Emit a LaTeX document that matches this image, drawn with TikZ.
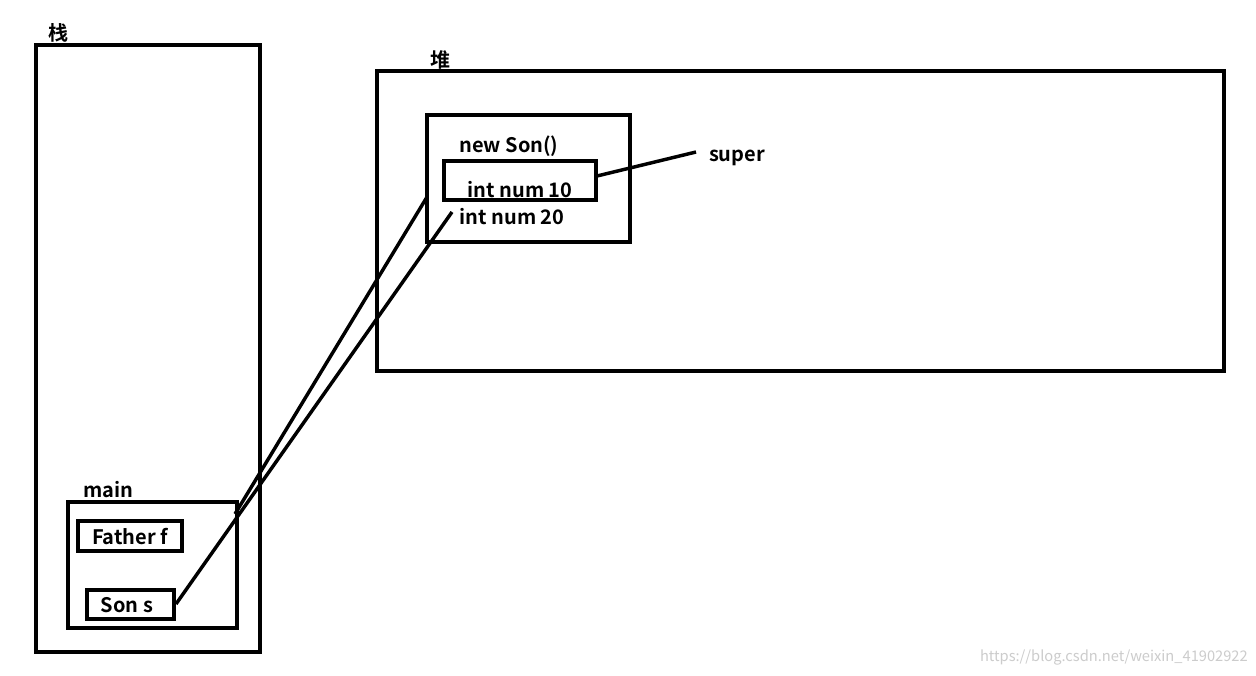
\documentclass[tikz,border=0pt]{standalone}
\usepackage{fontspec}
\setmainfont{Noto Sans CJK SC}[BoldFont={* Bold}]
\begin{document}
\begin{tikzpicture}[x=0.75pt,y=-0.75pt,
  box/.style={draw,line width=2.6pt},
  lbl/.style={font=\bfseries\fontsize{15}{18}\selectfont,inner sep=0pt},
  ln/.style={line width=2.6pt}]
\useasboundingbox (0,0) rectangle (1256,675);
\fill[white] (0,0) rectangle (1256,675);
\draw[box] (36,45) rectangle (260,652);
\node[lbl] (zhan) at (58,33) {栈};
\draw[box] (377,71) rectangle (1224,371);
\node[lbl] (dui) at (440,60) {堆};
\draw[box] (427,115) rectangle (630,242);
\node[lbl] (newson) at (509,146) {new Son()};
\draw[box] (444,161) rectangle (596,200);
\node[lbl] (n10) at (520,190) {int num 10};
\node[lbl] (n20) at (512,217) {int num 20};
\node[lbl] (super) at (737,158) {super};
\coordinate (s1) at (597,176); \coordinate (s2) at (696,152);
\draw[ln] (s1) -- (s2);
\draw[box] (68,502) rectangle (237,628);
\node[lbl] (main) at (108,490) {main};
\draw[box] (78,521) rectangle (182,551);
\node[lbl] (fa) at (130,537) {Father f};
\draw[box] (87,590) rectangle (174,619);
\node[lbl] (so) at (127,605) {Son s};
\coordinate (a1) at (235,514); \coordinate (a2) at (427,197);
\coordinate (b1) at (176,604); \coordinate (b2) at (452,212);
\draw[ln] (a1) -- (a2);
\draw[ln] (b1) -- (b2);
\node[font=\fontsize{11}{13}\selectfont,text=gray!40,anchor=east,inner sep=0pt] (wm) at (1248,657) {https://blog.csdn.net/weixin\_41902922};
\end{tikzpicture}
\end{document}
